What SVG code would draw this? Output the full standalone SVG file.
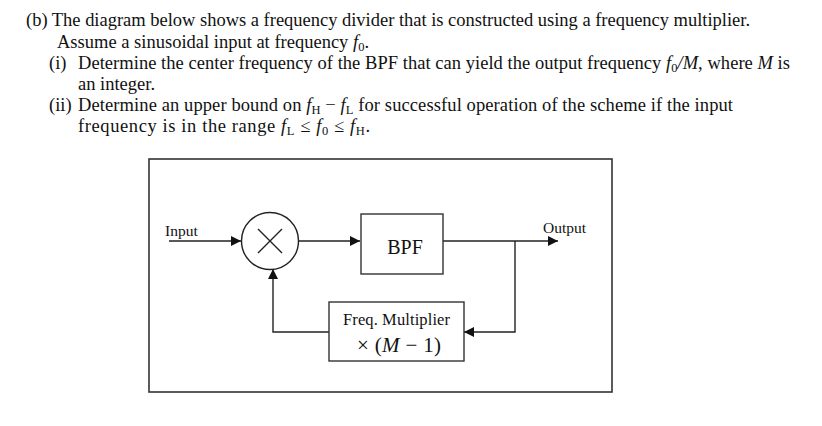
<svg xmlns="http://www.w3.org/2000/svg" width="822" height="426" viewBox="0 0 822 426">
<style>
.t{font-family:"Liberation Serif","DejaVu Serif",serif;font-size:18.5px;fill:#111}
.m{font-style:italic}
.s{font-size:12.5px;font-style:normal}
.d{font-family:"Liberation Serif","DejaVu Serif",serif;fill:#111}
.ln{fill:none;stroke:#222;stroke-width:1.4}
.box{fill:#fff;stroke:#333;stroke-width:1.4}
</style>
<defs>
<marker id="ar" viewBox="0 0 10 10" refX="10" refY="5" markerWidth="10" markerHeight="10" markerUnits="userSpaceOnUse" orient="auto">
<path d="M0,0 L10,5 L0,10 z" fill="#111"/>
</marker>
</defs>
<rect width="822" height="426" fill="#fff"/>
<g id="question">
<text class="t" x="26" y="26" textLength="724" lengthAdjust="spacing">(b) The diagram below shows a frequency divider that is constructed using a frequency multiplier.</text>
<text class="t" x="57" y="48" textLength="312" lengthAdjust="spacing">Assume a sinusoidal input at frequency <tspan class="m">f</tspan><tspan class="s" dy="3">0</tspan><tspan dy="-3">.</tspan></text>
<text class="t" x="49" y="69">(i)</text>
<text class="t" x="78" y="69" textLength="712" lengthAdjust="spacing">Determine the center frequency of the BPF that can yield the output frequency <tspan class="m">f</tspan><tspan class="s" dy="3">0</tspan><tspan dy="-3" class="m">/M</tspan>, where <tspan class="m">M</tspan> is</text>
<text class="t" x="78" y="90">an integer.</text>
<text class="t" x="49" y="111">(ii)</text>
<text class="t" x="78" y="111" textLength="655" lengthAdjust="spacing">Determine an upper bound on <tspan class="m">f</tspan><tspan class="s" dy="3">H</tspan><tspan dy="-3"> − </tspan><tspan class="m">f</tspan><tspan class="s" dy="3">L</tspan><tspan dy="-3"> for successful operation of the scheme if the input</tspan></text>
<text class="t" x="78" y="132" textLength="292" lengthAdjust="spacing">frequency is in the range <tspan class="m">f</tspan><tspan class="s" dy="3">L</tspan><tspan dy="-3"> ≤ </tspan><tspan class="m">f</tspan><tspan class="s" dy="3">0</tspan><tspan dy="-3"> ≤ </tspan><tspan class="m">f</tspan><tspan class="s" dy="3">H</tspan><tspan dy="-3">.</tspan></text>
</g>
<rect id="frame" x="149" y="159" width="463" height="233" fill="none" stroke="#333" stroke-width="1.6"/>
<g id="connectors">
<path class="ln" d="M169,241 L241,241" marker-end="url(#ar)"/>
<path class="ln" d="M299,241 L360,241" marker-end="url(#ar)"/>
<path class="ln" d="M443,241 L558,241" marker-end="url(#ar)"/>
<path class="ln" d="M515,241 L515,332 L464,332" marker-end="url(#ar)"/>
<path class="ln" d="M329,332 L273,332 L273,269" marker-end="url(#ar)"/>
</g>
<g id="mixer">
<circle cx="270" cy="241" r="28.5" fill="#fff" stroke="#222" stroke-width="1.4"/>
<path class="ln" d="M258,229 L282,253 M282,229 L258,253"/>
</g>
<g id="bpf">
<rect class="box" x="361" y="214" width="82" height="60"/>
<text class="d" x="405" y="254" font-size="20" text-anchor="middle">BPF</text>
</g>
<g id="multiplier">
<rect class="box" x="329" y="302" width="135" height="59"/>
<text class="d" x="343" y="325" font-size="16.5" textLength="107" lengthAdjust="spacing">Freq. Multiplier</text>
<text class="d" x="357" y="352" font-size="21" textLength="84" lengthAdjust="spacing">× (<tspan font-style="italic">M</tspan> − 1)</text>
</g>
<g id="labels">
<text class="d" x="165" y="236" font-size="15.5">Input</text>
<text class="d" x="543" y="233" font-size="15.5">Output</text>
</g>
</svg>
